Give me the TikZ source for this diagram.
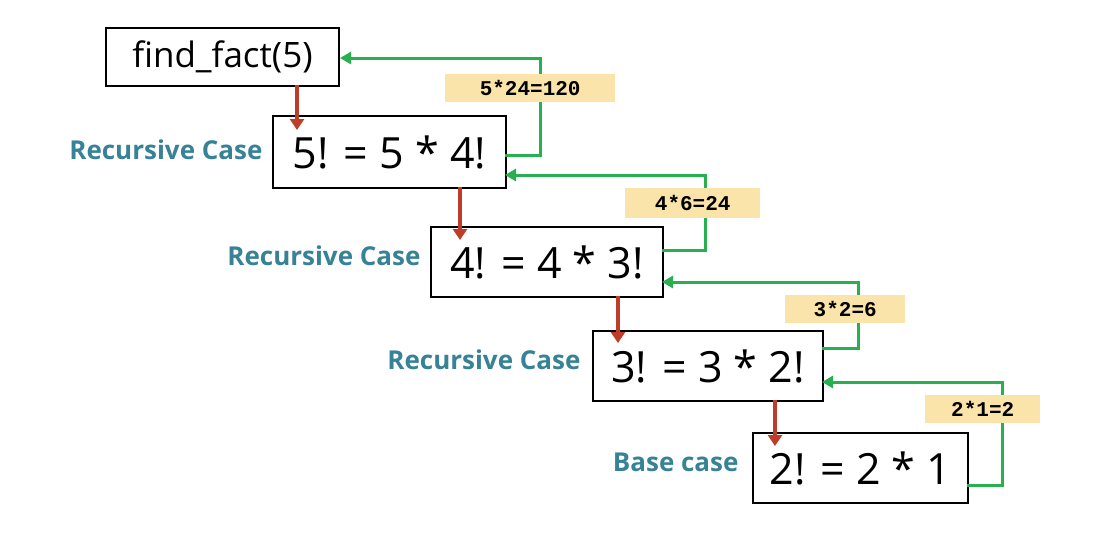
\documentclass[tikz,border=0pt]{standalone}
\usepackage{fontspec}
\setmainfont{Open Sans}
\newfontfamily\monof{Liberation Mono}
\usetikzlibrary{arrows.meta}
\definecolor{redA}{RGB}{190,60,40}
\definecolor{greenA}{RGB}{40,175,80}
\definecolor{tealA}{RGB}{55,130,150}
\definecolor{yelA}{RGB}{250,228,170}
\begin{document}
\begin{tikzpicture}[x=1pt,y=-1pt,
  box/.style={draw,line width=2pt,anchor=north west,inner sep=0pt},
  lbl/.style={anchor=east,text=tealA,font=\fontsize{26}{28}\selectfont\bfseries},
  res/.style={fill=yelA,anchor=north west,font=\fontsize{21}{23}\selectfont\monof\bfseries,inner sep=0pt,align=center},
  down/.style={draw=redA,line width=4pt,-{Triangle[length=11pt,width=14pt]}},
  back/.style={draw=greenA,line width=3pt,-{Triangle[length=11pt,width=12pt]}}]
\useasboundingbox (0,0) rectangle (1094,538);
\node[box,minimum width=233,minimum height=58,font=\fontsize{35}{38}\selectfont] (b1) at (105,27) {find\_fact(5)};
\node[box,minimum width=233,minimum height=72,font=\fontsize{43}{46}\selectfont] (b2) at (272,115) {5! = 5 * 4!};
\node[box,minimum width=232,minimum height=70,font=\fontsize{43}{46}\selectfont] (b3) at (430,226) {4! = 4 * 3!};
\node[box,minimum width=230,minimum height=70,font=\fontsize{43}{46}\selectfont] (b4) at (592,330) {3! = 3 * 2!};
\node[box,minimum width=215,minimum height=70,font=\fontsize{43}{46}\selectfont] (b5) at (752,432) {2! = 2 * 1};
\node[lbl] (l2) at (266,150) {Recursive Case};
\node[lbl] (l3) at (424,256) {Recursive Case};
\node[lbl] (l4) at (584,360) {Recursive Case};
\node[lbl] (l5) at (742,462) {Base case};
\draw[down] (297,85) -- (297,130);
\draw[down] (460,187) -- (460,240);
\draw[down] (618,296) -- (618,343);
\draw[down] (775,400) -- (775,446);
\draw[back] (505,155) -| (540,58) -- (b1.east |- 0,58);
\draw[back] (662,250) -| (705,175) -- (505,175);
\draw[back] (822,348) -| (858,282) -- (662,282);
\draw[back] (967,485) -| (1002,382) -- (822,382);
\node[res,minimum width=170,minimum height=28] (r1) at (445,74) {5*24=120};
\node[res,minimum width=135,minimum height=30] (r2) at (625,188) {4*6=24};
\node[res,minimum width=120,minimum height=28] (r3) at (785,295) {3*2=6};
\node[res,minimum width=115,minimum height=28] (r4) at (925,395) {2*1=2};
\end{tikzpicture}
\end{document}
